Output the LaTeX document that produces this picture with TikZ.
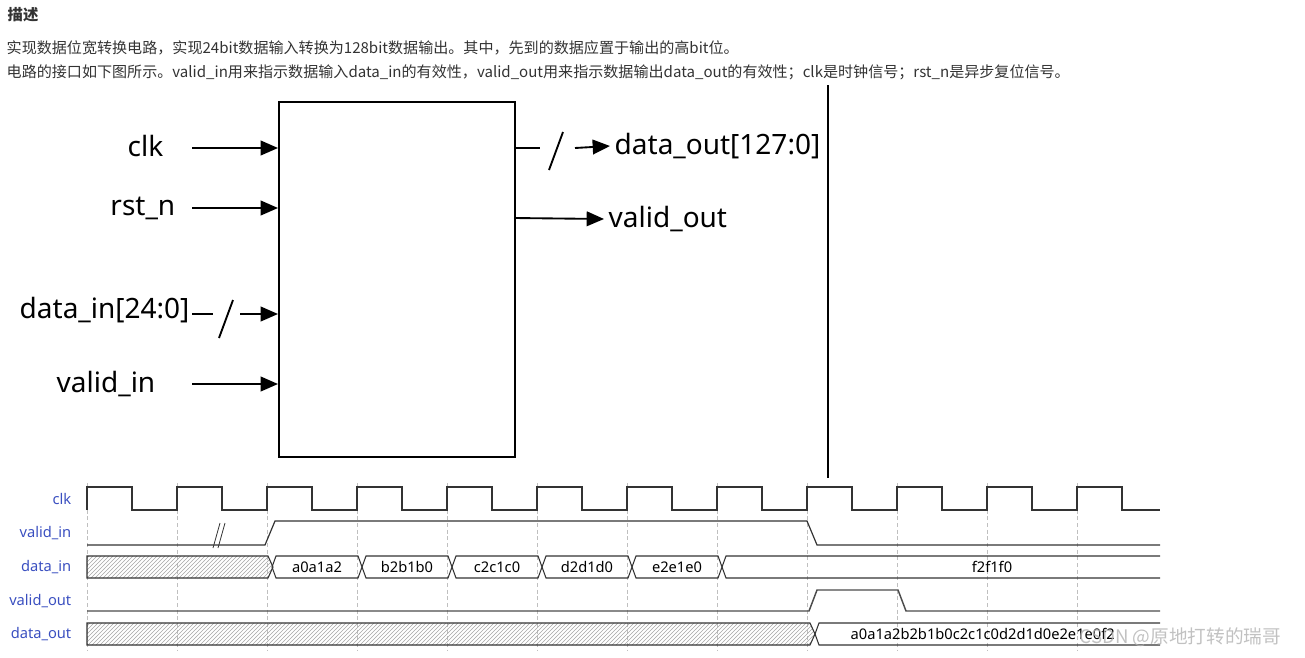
\documentclass[tikz,border=0pt]{standalone}
\usepackage{fontspec}
\setmainfont{Noto Sans}
\newfontfamily\cjk{Noto Sans CJK SC}
\usetikzlibrary{patterns,arrows.meta}
\definecolor{lbl}{HTML}{3A4FC0}
\definecolor{txt}{HTML}{333333}
\tikzset{
 sig/.style={line width=0.9pt,black!80},
 grid/.style={densely dashed,gray!50,line width=0.4pt},
 wlabel/.style={anchor=east,text=lbl,font=\fontsize{11}{12}\selectfont},
 bigtxt/.style={font=\fontsize{21}{24}\selectfont},
 pin/.style={line width=1.4pt,-{Triangle[length=13pt,width=11pt]}},
 bus/.style={line width=1.4pt},
 hatch/.style={pattern={north east lines},pattern color=gray!70,draw=black!80,line width=0.8pt},
 cell/.style={draw=black!80,line width=0.8pt},
 celltxt/.style={font=\fontsize{11}{12}\selectfont}
}
\begin{document}
\begin{tikzpicture}[x=0.75pt,y=-0.75pt]
\useasboundingbox (0,0) rectangle (1305,657);
% header
\node[anchor=west,font=\cjk\bfseries\fontsize{11.5}{12}\selectfont,text=txt] (title) at (3,15) {描述};
\node[anchor=west,font=\cjk\fontsize{11.3}{12}\selectfont,text=txt] (l1) at (2,48) {实现数据位宽转换电路，实现24bit数据输入转换为128bit数据输出。其中，先到的数据应置于输出的高bit位。};
\node[anchor=west,font=\cjk\fontsize{11.3}{12}\selectfont,text=txt] (l2) at (2,72) {电路的接口如下图所示。valid\_in用来指示数据输入data\_in的有效性，valid\_out用来指示数据输出data\_out的有效性；clk是时钟信号；rst\_n是异步复位信号。};
% block
\node[draw,line width=1.3pt,minimum width=236*0.75pt,minimum height=355*0.75pt,anchor=north west,inner sep=0] (blk) at (278,101) {};
\draw[line width=1pt] (828,85) -- (828,478);
% inputs
\node[bigtxt,anchor=east] (iclk) at (168,146) {clk};
\node[bigtxt,anchor=east] (irst) at (180,208) {rst\_n};
\node[bigtxt,anchor=east,inner sep=1pt] (idin) at (191,310) {data\_in[24:0]};
\node[bigtxt,anchor=east] (ivin) at (160,384) {valid\_in};
\coordinate (a1) at (192,148); \coordinate (a2) at (192,208);
\coordinate (a3) at (240,314); \coordinate (a4) at (192,384);
\coordinate (a3s) at (192,314); \coordinate (a3e) at (213,314);
\draw[pin] (a1) -- (a1 -| blk.west);
\draw[pin] (a2) -- (a2 -| blk.west);
\draw[pin] (a3) -- (a3 -| blk.west);
\draw[pin] (a4) -- (a4 -| blk.west);
\draw[bus] (a3s) -- (a3e);
\draw[bus] (219,338) -- (233,300);
% outputs
\coordinate (b1) at (575,148); \coordinate (b2) at (514,218);
\coordinate (b1s) at (514,148); \coordinate (b1e) at (540,148);
\node[bigtxt,anchor=west] (odout) at (610,146) {data\_out[127:0]};
\node[bigtxt,anchor=west] (ovout) at (604,219) {valid\_out};
\draw[pin] (b1) -- (odout.west);
\draw[pin] (b2) -- (ovout.west);
\draw[bus] (b1s) -- (b1e);
\draw[bus] (549,170) -- (563,132);
% waveform labels
\node[wlabel] (wclk) at (76,499) {clk};
\node[wlabel] (wvin) at (76,533) {valid\_in};
\node[wlabel] (wdin) at (76,567) {data\_in};
\node[wlabel] (wvout) at (76,601) {valid\_out};
\node[wlabel] (wdout) at (76,634) {data\_out};
% grid
\foreach \x in {87,177,267,357,447,537,627,717,807,897,987,1077}
  \draw[grid] (\x,483) -- (\x,650);
% clock
\draw[sig] (87,510) \foreach \x in {87,177,267,357,447,537,627,717,807,897,987,1077}
  { -- (\x,510) -- (\x,487) -- (\x+45,487) -- (\x+45,510) } -- (1160,510);
% valid_in
\draw[sig] (87,545) -- (265,545) -- (275,521) -- (807,521) -- (817,545) -- (1160,545);
\fill[white] (214,540) -- (222,540) -- (228,526) -- (220,526) -- cycle;
\draw[sig,line width=0.6pt] (213,548) -- (220,523) (218,548) -- (225,523);
% data_in
\path[hatch] (87,556) -- (268,556) -- (273,567) -- (268,578) -- (87,578) -- cycle;
\foreach \a/\b/\t in {272/362/a0a1a2,362/452/b2b1b0,452/542/c2c1c0,542/632/d2d1d0,632/722/e2e1e0} {
  \draw[cell] (\a,567) -- (\a+4,556) -- (\b-4,556) -- (\b,567) -- (\b-4,578) -- (\a+4,578) -- cycle;
  \node[celltxt] at ({(\a+\b)/2},567) {\t};
}
\draw[cell] (1160,556) -- (726,556) -- (722,567) -- (726,578) -- (1160,578);
\node[celltxt] (f2) at (992,567) {f2f1f0};
% valid_out
\draw[sig,line width=1.1pt,black!70] (87,611) -- (809,611) -- (817,590) -- (898,590) -- (906,611) -- (1160,611);
% data_out
\path[hatch] (87,623) -- (810,623) -- (815,634) -- (810,645) -- (87,645) -- cycle;
\draw[cell] (1160,623) -- (819,623) -- (815,634) -- (819,645) -- (1160,645);
\node[celltxt,anchor=west] (dout) at (846,634) {a0a1a2b2b1b0c2c1c0d2d1d0e2e1e0f2};
\node[anchor=west,font=\cjk\fontsize{14}{15}\selectfont,text=gray!60,opacity=0.8] (wm) at (1075,637) {CSDN @原地打转的瑞哥};
\end{tikzpicture}
\end{document}
